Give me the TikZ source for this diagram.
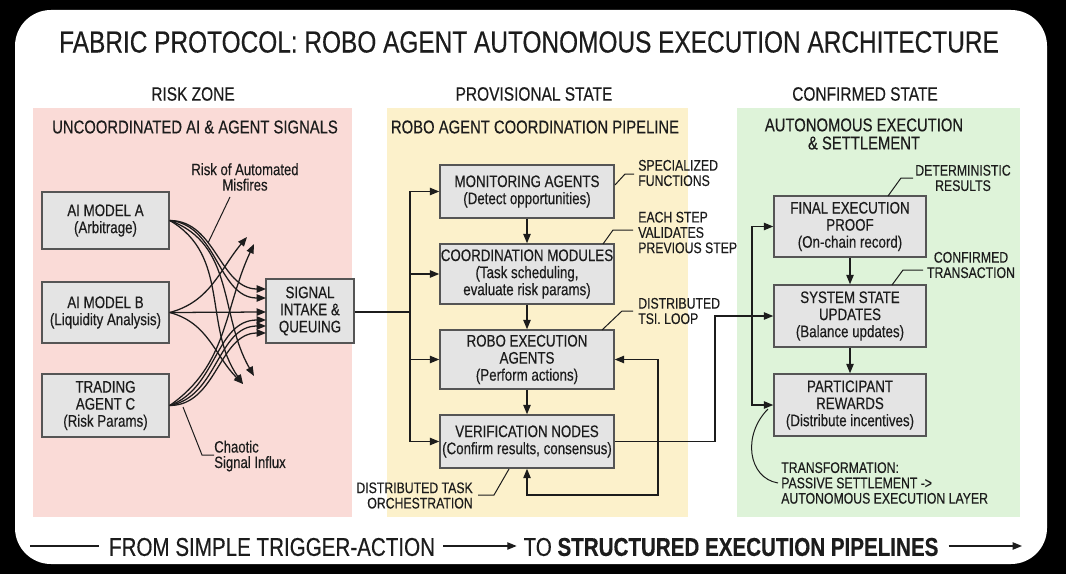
\documentclass[tikz,border=0pt]{standalone}
\usepackage{fontspec}
\setmainfont{Liberation Sans}[FakeStretch=0.8, FakeBold=0.35]
\usetikzlibrary{arrows.meta}
\definecolor{ink}{RGB}{28,28,28}
\definecolor{zpink}{RGB}{250,219,215}
\definecolor{zyellow}{RGB}{252,241,203}
\definecolor{zgreen}{RGB}{222,243,217}
\definecolor{boxfill}{RGB}{228,228,228}
\definecolor{boxline}{RGB}{85,85,85}
\tikzset{
  box/.style={draw=boxline, fill=boxfill, line width=1.1pt, align=center, inner sep=0pt,
    text=ink, font=\fontsize{12.5}{12.8}\selectfont},
  conn/.style={draw=ink, line width=0.95pt},
  arr/.style={conn, -{Triangle[length=7pt,width=5.5pt]}},
  both/.style={conn, {Triangle[length=7pt,width=5.5pt]}-{Triangle[length=7pt,width=5.5pt]}},
  lead/.style={draw=ink, line width=0.75pt},
  note/.style={text=ink, inner sep=0pt, font=\fontsize{11.5}{11.5}\selectfont},
  zonehead/.style={text=ink, inner sep=0pt, font=\fontsize{14.5}{16}\selectfont},
  zonetitle/.style={text=ink, inner sep=0pt, align=center, font=\fontsize{13.9}{13.6}\selectfont},
}
\begin{document}
\begin{tikzpicture}[x=0.75pt,y=-0.75pt]
\fill[black] (0,0) rectangle (1066,574);
\useasboundingbox (0,0) rectangle (1066,574);
\fill[white, rounded corners=27pt] (15,10) rectangle (1047,564);

% title
\node[text=ink, inner sep=0pt, font=\fontsize{22.9}{26}\selectfont] (title) at (529,42) {FABRIC PROTOCOL: ROBO AGENT AUTONOMOUS EXECUTION ARCHITECTURE};

% zone headers
\node[zonehead] (h1) at (193,94) {RISK ZONE};
\node[zonehead] (h2) at (534,94) {PROVISIONAL STATE};
\node[zonehead] (h3) at (865,94) {CONFIRMED STATE};

% zones
\fill[zpink] (33,108) rectangle (352,517);
\fill[zyellow] (387,108) rectangle (688,517);
\fill[zgreen] (737,108) rectangle (1020,517);

\node[zonetitle] (z1) at (195,127) {UNCOORDINATED AI \& AGENT SIGNALS};
\node[zonetitle] (z2) at (535,127) {ROBO AGENT COORDINATION PIPELINE};
\node[zonetitle] (z3) at (864,134) {AUTONOMOUS EXECUTION\\\& SETTLEMENT};

% left boxes
\node[box, minimum width=95.25pt, minimum height=42.75pt] (A) at (105.5,220.5) {AI MODEL A\\(Arbitrage)};
\node[box, minimum width=95.25pt, minimum height=45.75pt] (B) at (105.5,312.5) {AI MODEL B\\(Liquidity Analysis)};
\node[box, minimum width=95.25pt, minimum height=47.25pt] (C) at (105.5,405.5) {TRADING\\AGENT C\\(Risk Params)};
\node[box, minimum width=66pt, minimum height=48pt] (I) at (310,311) {SIGNAL\\INTAKE \&\\QUEUING};

% middle boxes
\node[box, minimum width=130.5pt, minimum height=39.75pt] (M) at (527,191.5) {MONITORING AGENTS\\(Detect opportunities)};
\node[box, minimum width=130.5pt, minimum height=45pt] (K) at (527,274) {COORDINATION MODULES\\(Task scheduling,\\evaluate risk params)};
\node[box, minimum width=130.5pt, minimum height=44.25pt] (R) at (527,359.5) {ROBO EXECUTION\\AGENTS\\(Perform actions)};
\node[box, minimum width=130.5pt, minimum height=39.75pt] (V) at (527,441.5) {VERIFICATION NODES\\(Confirm results, consensus)};

% right boxes
\node[box, minimum width=114pt, minimum height=45.75pt] (F) at (850,226.5) {FINAL EXECUTION\\PROOF\\(On-chain record)};
\node[box, minimum width=114pt, minimum height=46.5pt] (S) at (850,316) {SYSTEM STATE\\UPDATES\\(Balance updates)};
\node[box, minimum width=114pt, minimum height=46.5pt] (P) at (850,405) {PARTICIPANT\\REWARDS\\(Distribute incentives)};

% chaotic crossing signals
\coordinate (t1) at (266,289);
\coordinate (t2) at (266,298);
\coordinate (t4) at (266,312);
\coordinate (t5) at (266,320);
\coordinate (t6) at (266,326);
\coordinate (t7) at (266,333);
\coordinate (u1) at (247,237);
\coordinate (u2) at (254,244);
\coordinate (d1) at (254,376);
\coordinate (d2) at (243,384);
\draw[arr] (A.east) to[out=0,in=180] (t1);
\draw[arr] (A.east) to[out=-5,in=180] (t2);
\draw[arr] (A.east) to[out=-20,in=120] (d1);
\draw[arr] (A.east) to[out=-30,in=125] (d2);
\draw[arr] (B.east) to[out=15,in=-130] (u1);
\draw[arr] (B.east) -- (t4);
\draw[arr] (B.east) to[out=-15,in=135] (d2);
\draw[arr] (C.east) to[out=35,in=-115] (u2);
\draw[arr] (C.east) to[out=20,in=180] (t5);
\draw[arr] (C.east) to[out=10,in=180] (t6);
\draw[arr] (C.east) to[out=0,in=180] (t7);

% left annotations
\node[note, align=center, font=\fontsize{12.3}{11.6}\selectfont] (n1) at (245,177) {Risk of Automated\\Misfires};
\coordinate (n1a) at (230,197);
\coordinate (n1b) at (208,243);
\draw[lead] (n1a) -- (n1b);
\node[note, align=left, anchor=west, font=\fontsize{12.3}{11.6}\selectfont] (n2) at (214,456) {Chaotic\\Signal Influx};
\coordinate (n2a) at (183,407);
\coordinate (n2b) at (202,455);
\draw[lead] (n2a) -- (n2b) -- (n2.west|-n2b);

% pipeline connectors
\coordinate (bus) at (410,312);
\draw[conn] (I.east|-bus) -- (bus);
\draw[arr] (bus) |- (M.west);
\draw[arr] (bus) |- (K.west);
\draw[arr] (bus) |- (R.west);
\draw[arr] (bus) |- (V.west);
\draw[arr] (M) -- (K);
\draw[arr] (K) -- (R);
\draw[arr] (R) -- (V);
\coordinate (loop) at (658,495);
\draw[both] (R.east) -| (loop) -| (V.south);

% middle annotations
\node[note, align=left, anchor=west] (n3) at (638,173) {SPECIALIZED\\FUNCTIONS};
\coordinate (n3a) at (615,185);
\coordinate (n3b) at (625,174);
\draw[lead] (n3a) -- (n3b) -- (634,174);
\node[note, align=left, anchor=west] (n4) at (638,232.5) {EACH STEP\\VALIDATES\\PREVIOUS STEP};
\coordinate (n4a) at (603,244);
\coordinate (n4b) at (613,230);
\draw[lead] (n4a) -- (n4b) -- (633,230);
\node[note, align=left, anchor=west] (n5) at (638,311) {DISTRIBUTED\\TSI. LOOP};
\coordinate (n5a) at (602,330);
\coordinate (n5b) at (622,311);
\draw[lead] (n5a) -- (n5b) -- (633,311);
\node[note, align=right, anchor=east] (n6) at (473,495.5) {DISTRIBUTED TASK\\ORCHESTRATION};
\coordinate (n6a) at (478,495);
\coordinate (n6b) at (494,495);
\coordinate (n6c) at (509,469);
\draw[lead] (n6a) -- (n6b) -- (n6c);

% to confirmed state
\coordinate (vo) at (715,316);
\draw[arr] (V.east) -| (vo) -- (S.west);
\coordinate (gb) at (752,316);
\draw[arr] (gb) |- (F.west);
\draw[arr] (gb) |- (P.west);
\draw[arr] (F) -- (S);
\draw[arr] (S) -- (P);

% right annotations
\node[note, align=center] (n7) at (963,178) {DETERMINISTIC\\RESULTS};
\coordinate (n7a) at (888,196);
\coordinate (n7b) at (901,178);
\draw[lead] (n7a) -- (n7b) -- (913,178);
\node[note, align=center] (n8) at (971,265) {CONFIRMED\\TRANSACTION};
\coordinate (n8a) at (892,285);
\coordinate (n8b) at (903,270);
\draw[lead] (n8a) -- (n8b) -- (923,270);
\node[note, align=left, anchor=west] (n9) at (781,483) {TRANSFORMATION:\\PASSIVE SETTLEMENT ->\\AUTONOMOUS EXECUTION LAYER};
\coordinate (n9a) at (778,483);
\coordinate (n9b) at (768,409);
\draw[lead] (n9a) .. controls (748,478) and (742,435) .. (n9b);

% bottom banner
\node[text=ink, inner sep=0pt, font=\fontsize{19.3}{22}\selectfont] (b1) at (272,547) {FROM SIMPLE TRIGGER-ACTION};
\node[text=ink, inner sep=0pt, font=\fontsize{19.3}{22}\selectfont] (b2) at (731,547) {TO \textbf{STRUCTURED EXECUTION PIPELINES}};
\coordinate (b0) at (30,546);
\coordinate (b3) at (1022,546);
\draw[conn] (b0) -- ([xshift=-7.5pt]b1.west|-b0);
\draw[arr] ([xshift=6pt]b1.east|-b0) -- ([xshift=-5pt]b2.west|-b0);
\draw[arr] ([xshift=7.5pt]b2.east|-b0) -- (b3);
\end{tikzpicture}
\end{document}
